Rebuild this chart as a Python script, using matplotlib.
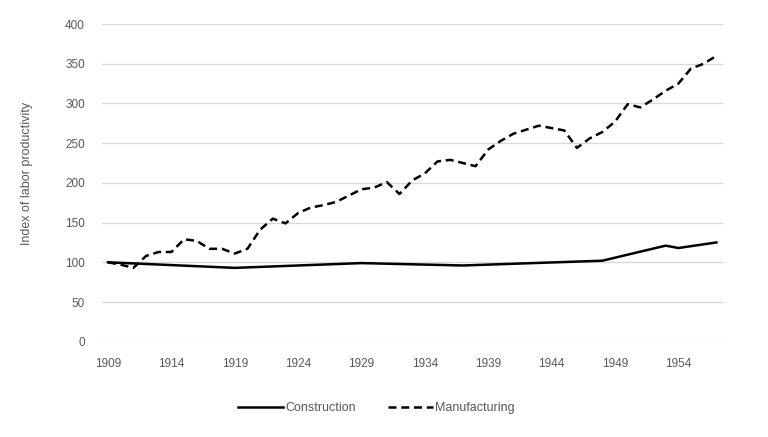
import matplotlib
matplotlib.use("Agg")
import matplotlib.pyplot as plt

plt.rcParams['font.family'] = ['Liberation Sans', 'DejaVu Sans']

# construction index (few observation years, lines join them)
constr_years = [1909, 1919, 1929, 1937, 1948, 1953, 1954, 1957]
constr_vals = [100, 93, 99, 96, 102, 121, 118, 125]

# manufacturing index, yearly
manuf_years = list(range(1909, 1958))
manuf_vals = [100, 97, 93, 108, 113, 113, 129, 127, 117, 117,
              111, 117, 141, 155, 149, 162, 169, 172, 176, 184,
              192, 194, 201, 186, 203, 212, 227, 229, 225, 221,
              242, 253, 262, 267, 272, 269, 266, 244, 256, 264,
              277, 299, 295, 305, 316, 325, 344, 350, 360]

xticks = list(range(1909, 1955, 5))
yticks = list(range(0, 401, 50))

grey = '#595959'

fig = plt.figure(figsize=(7.68, 4.37), dpi=100)
ax = fig.add_axes([0.1324, 0.218, 0.8086, 0.727])

ax.plot(constr_years, constr_vals, color='black', lw=1.8, label='Construction',
        clip_on=False, zorder=3)
ax.plot(manuf_years, manuf_vals, color='black', lw=1.8, label='Manufacturing',
        dashes=(3.2, 1.9), clip_on=False, zorder=3)

ax.set_xlim(1908.5, 1957.5)
ax.set_ylim(0, 400)
ax.set_xticks(xticks)
ax.set_yticks(yticks)
ax.tick_params(axis='both', length=0, labelsize=8.5, labelcolor=grey)
ax.tick_params(axis='x', pad=12)
ax.tick_params(axis='y', pad=12)
ax.grid(axis='y', color='#d9d9d9', lw=1)
ax.set_axisbelow(True)
for s in ax.spines.values():
    s.set_visible(False)

ax.set_ylabel('Index of labor productivity', fontsize=9, color=grey)
ax.yaxis.set_label_coords(-0.110, 0.53)

fig.legend(loc='center', bbox_to_anchor=(0.49, 0.066), ncol=2, frameon=False,
           fontsize=9, handlelength=3.6, handletextpad=0.15, columnspacing=2.6,
           labelcolor=grey)

fig.savefig('out.png', dpi=100)
